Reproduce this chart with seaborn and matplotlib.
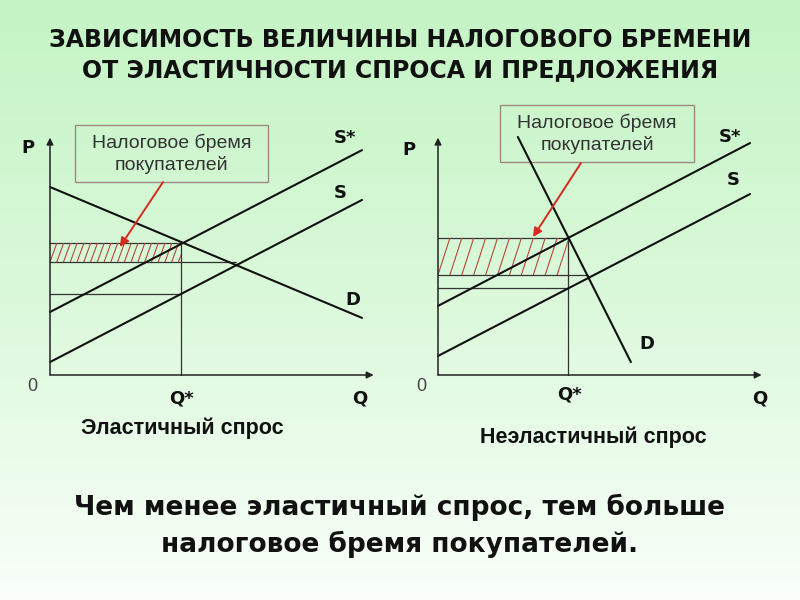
import numpy as np
import pandas as pd
import seaborn as sns
import matplotlib.pyplot as plt
from matplotlib.patches import Rectangle

# Left panel (elastic demand): line endpoints in (Q, P) units
el_d_q = [0.0, 9.69]
el_d_p = [8.0, 2.43]
el_s_q = [0.0, 9.69]
el_s_p = [0.55, 7.45]
el_st_q = [0.0, 9.69]
el_st_p = [2.68, 9.57]
el_qstar = 4.07
el_q0 = 5.79
el_p_buyer = 5.6
el_p0 = 4.81
el_p_seller = 3.45

# Right panel (inelastic demand)
in_d_q = [2.48, 5.99]
in_d_p = [10.13, 0.55]
in_s_q = [0.0, 9.69]
in_s_p = [0.81, 7.70]
in_st_q = [0.0, 9.69]
in_st_p = [2.94, 9.87]
in_qstar = 4.04
in_q0 = 4.66
in_p_buyer = 5.83
in_p0 = 4.26
in_p_seller = 3.70

title_lines = ['ЗАВИСИМОСТЬ ВЕЛИЧИНЫ НАЛОГОВОГО БРЕМЕНИ',
               'ОТ ЭЛАСТИЧНОСТИ СПРОСА И ПРЕДЛОЖЕНИЯ']
box_text = 'Налоговое бремя\nпокупателей'
panel_titles = ['Эластичный спрос', 'Неэластичный спрос']
conclusion = ['Чем менее эластичный спрос, тем больше',
              'налоговое бремя покупателей.']

sns.set_theme(style='white')
plt.rcParams['font.family'] = ['Liberation Sans', 'DejaVu Sans']

fig = plt.figure(figsize=(8, 6), dpi=100)

# background gradient: pale green on top fading to white at bottom
bg = fig.add_axes([0, 0, 1, 1], zorder=-10)
grad = np.linspace(0, 1, 256)[:, None] ** 1.3
top = np.array([0.78, 0.96, 0.78])
bot = np.array([0.98, 1.0, 0.98])
img = top[None, None, :] * (1 - grad[:, :, None]) + bot[None, None, :] * grad[:, :, None]
bg.imshow(img, aspect='auto', extent=[0, 1, 0, 1])
bg.axis('off')

LINE = '#111111'
THIN = '#333333'
HATCH = '#b5483a'


def draw_panel(ax, d, s, st, qstar, q0, pb, p0, ps, hatch_dx, box, arrow_from, arrow_to, labels):
    ax.set_xlim(0, 10)
    ax.set_ylim(0, 10)
    ax.axis('off')
    ax.patch.set_alpha(0)

    # axes with arrows
    ax.annotate('', xy=(0, 10.1), xytext=(0, 0), annotation_clip=False,
                arrowprops=dict(arrowstyle='-|>', color='#222222', lw=1.1,
                                mutation_scale=10, shrinkA=0, shrinkB=0))
    ax.annotate('', xy=(10.05, 0), xytext=(0, 0), annotation_clip=False,
                arrowprops=dict(arrowstyle='-|>', color='#222222', lw=1.1,
                                mutation_scale=10, shrinkA=0, shrinkB=0))

    # guide lines
    ax.plot([0, qstar], [pb, pb], color=THIN, lw=0.9, clip_on=False)
    ax.plot([0, q0], [p0, p0], color=THIN, lw=0.9, clip_on=False)
    ax.plot([0, qstar], [ps, ps], color=THIN, lw=0.9, clip_on=False)
    ax.plot([qstar, qstar], [0, pb], color=THIN, lw=0.9, clip_on=False)

    # hatched area of buyers' tax burden
    rect = Rectangle((0, p0), qstar, pb - p0, fill=False, lw=0)
    ax.add_patch(rect)
    for x0 in np.arange(-hatch_dx, qstar + hatch_dx, hatch_dx):
        ln, = ax.plot([x0, x0 + hatch_dx], [p0, pb], color=HATCH, lw=0.8)
        ln.set_clip_path(rect)

    # demand and supply curves
    for (qq, pp) in (d, s, st):
        sns.lineplot(x=qq, y=pp, color=LINE, lw=1.5, ax=ax, clip_on=False)

    # callout box and red arrow
    bx0, by0, bx1, by1 = box
    ax.add_patch(Rectangle((bx0, by0), bx1 - bx0, by1 - by0, fill=False,
                           ec='#a08a80', lw=1.0, clip_on=False))
    ax.text((bx0 + bx1) / 2, (by0 + by1) / 2, box_text, ha='center', va='center',
            fontsize=14, color='#333333', linespacing=1.3, clip_on=False)
    ax.annotate('', xy=arrow_to, xytext=arrow_from, annotation_clip=False,
                arrowprops=dict(arrowstyle='-|>', color='#d42a20', lw=1.4,
                                mutation_scale=13, shrinkA=0, shrinkB=0))

    for txt, (x, y), bold in labels:
        if bold:
            ax.text(x, y, txt, ha='center', va='center', fontsize=13,
                    fontweight='bold', color='#111111', family='DejaVu Sans',
                    clip_on=False)
        else:
            ax.text(x, y, txt, ha='center', va='center', fontsize=13,
                    color='#444444', clip_on=False)


ax1 = fig.add_axes([50 / 800, 1 - 375 / 600, 322 / 800, 235 / 600])
draw_panel(ax1, (el_d_q, el_d_p), (el_s_q, el_s_p), (el_st_q, el_st_p),
           el_qstar, el_q0, el_p_buyer, el_p0, el_p_seller, 0.21,
           (0.78, 8.21, 6.77, 10.64), (3.51, 8.21), (2.17, 5.45),
           [('P', (-0.68, 9.66), True), ('S*', (9.16, 10.09), True),
            ('S', (9.0, 7.74), True), ('D', (9.41, 3.19), True),
            ('0', (-0.56, -0.51), False), ('Q*', (4.07, -0.98), True),
            ('Q', (9.63, -1.02), True)])

ax2 = fig.add_axes([438 / 800, 1 - 375 / 600, 322 / 800, 235 / 600])
draw_panel(ax2, (in_d_q, in_d_p), (in_s_q, in_s_p), (in_st_q, in_st_p),
           in_qstar, in_q0, in_p_buyer, in_p0, in_p_seller, 0.37,
           (1.93, 9.06, 7.95, 11.49), (4.44, 9.02), (2.95, 5.87),
           [('P', (-0.9, 9.57), True), ('S*', (9.07, 10.13), True),
            ('S', (9.16, 8.30), True), ('D', (6.49, 1.32), True),
            ('0', (-0.53, -0.51), False), ('Q*', (4.07, -0.85), True),
            ('Q', (10.0, -1.02), True)])

# texts
fig.text(0.5, 1 - 40 / 600, title_lines[0], ha='center', va='center',
         fontsize=17, fontweight='bold', color='#111111', family='DejaVu Sans')
fig.text(0.5, 1 - 70 / 600, title_lines[1], ha='center', va='center',
         fontsize=17, fontweight='bold', color='#111111', family='DejaVu Sans')
fig.text(182 / 800, 1 - 428 / 600, panel_titles[0], ha='center', va='center',
         fontsize=15.5, fontweight='bold', color='#111111')
fig.text(593 / 800, 1 - 437 / 600, panel_titles[1], ha='center', va='center',
         fontsize=15.5, fontweight='bold', color='#111111')
fig.text(0.5, 1 - 507 / 600, conclusion[0], ha='center', va='center',
         fontsize=19, fontweight='bold', color='#111111', family='DejaVu Sans')
fig.text(0.5, 1 - 544 / 600, conclusion[1], ha='center', va='center',
         fontsize=19, fontweight='bold', color='#111111', family='DejaVu Sans')

fig.savefig('out.png', dpi=100)
